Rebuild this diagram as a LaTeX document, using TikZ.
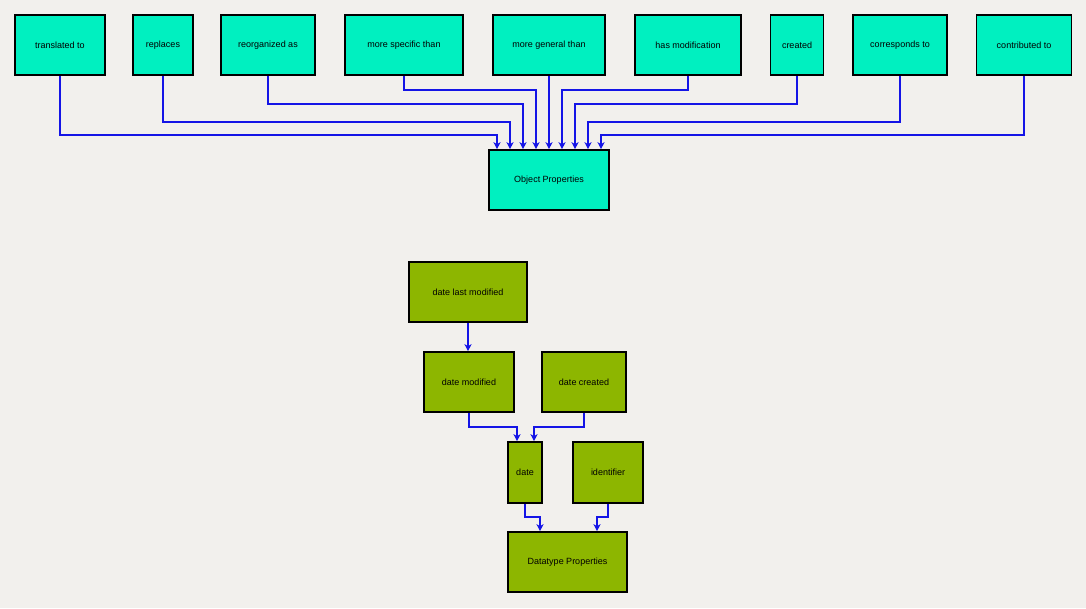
\documentclass[tikz,border=0pt]{standalone}
\usepackage{fontspec}
\setmainfont{Liberation Sans}
\usetikzlibrary{arrows.meta}
\definecolor{bg}{HTML}{F2F0ED}
\definecolor{cyanf}{HTML}{00F0C0}
\definecolor{olive}{HTML}{8DB600}
\begin{document}
\begin{tikzpicture}[x=1pt,y=-1pt,
  box/.style={draw=black,line width=1.6pt,inner sep=0pt,font=\fontsize{9}{10}\selectfont,minimum height=60pt},
  cy/.style={box,fill=cyanf},
  ol/.style={box,fill=olive},
  con/.style={draw={rgb,255:red,20;green,20;blue,230},line width=1.4pt,-{Stealth[length=7pt,width=7pt,inset=2pt]},rounded corners=0pt}]
\fill[bg] (0,0) rectangle (1086,608);
\useasboundingbox (0,0) rectangle (1086,608);
\node[cy,minimum width=90pt] (a) at (60,45) {translated to};
\node[cy,minimum width=60pt] (b) at (163,45) {replaces};
\node[cy,minimum width=94pt] (c) at (268,45) {reorganized as};
\node[cy,minimum width=118pt] (d) at (404,45) {more specific than};
\node[cy,minimum width=112pt] (e) at (549,45) {more general than};
\node[cy,minimum width=106pt] (f) at (688,45) {has modification};
\node[cy,minimum width=53pt] (g) at (797,45) {created};
\node[cy,minimum width=94pt] (h) at (900,45) {corresponds to};
\node[cy,minimum width=95pt] (i) at (1024,45) {contributed to};
\node[cy,minimum width=120pt] (op) at (549,180) {Object Properties};
\draw[con] (a.south) |- (497,135) -- (op.north -| 497,0);
\draw[con] (b.south) |- (510,122) -- (op.north -| 510,0);
\draw[con] (c.south) |- (523,104) -- (op.north -| 523,0);
\draw[con] (d.south) |- (536,90) -- (op.north -| 536,0);
\draw[con] (e.south) -- (op.north);
\draw[con] (f.south) |- (562,90) -- (op.north -| 562,0);
\draw[con] (g.south) |- (575,104) -- (op.north -| 575,0);
\draw[con] (h.south) |- (588,122) -- (op.north -| 588,0);
\draw[con] (i.south) |- (601,135) -- (op.north -| 601,0);
\node[ol,minimum width=118pt] (dlm) at (468,292) {date last modified};
\node[ol,minimum width=90pt] (dm) at (469,382) {date modified};
\node[ol,minimum width=84pt] (dc) at (584,382) {date created};
\node[ol,minimum width=34pt,minimum height=61pt] (dt) at (525,472.5) {date};
\node[ol,minimum width=70pt,minimum height=61pt] (id) at (608,472.5) {identifier};
\node[ol,minimum width=119pt] (dp) at (567.5,562) {Datatype Properties};
\draw[con] (dlm.south) -- (dm.north -| dlm.south);
\draw[con] (dm.south) |- (517,427) -- (dt.north -| 517,0);
\draw[con] (dc.south) |- (534,427) -- (dt.north -| 534,0);
\draw[con] (dt.south) |- (540,517) -- (dp.north -| 540,0);
\draw[con] (id.south) |- (597,517) -- (dp.north -| 597,0);
\end{tikzpicture}
\end{document}
